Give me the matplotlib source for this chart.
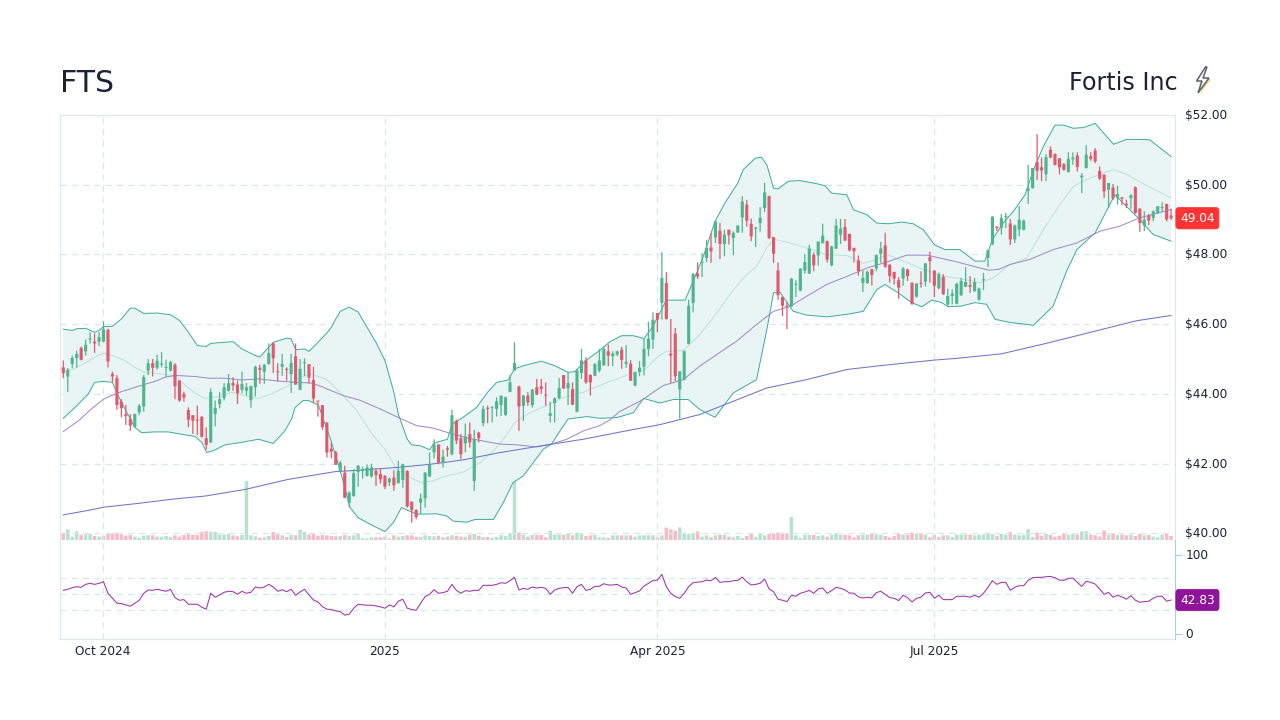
import matplotlib
matplotlib.use('Agg')
import matplotlib.pyplot as plt
from matplotlib.transforms import ScaledTranslation
import numpy as np

# daily candles
OPEN = [
    44.76,44.50,44.86,45.03,45.32,45.22,45.56,45.50,45.50,45.50,
    45.84,44.57,44.45,43.78,43.42,43.28,43.06,43.47,43.64,44.67,
    44.88,44.75,44.84,44.74,44.67,44.84,44.38,44.00,43.54,43.39,
    43.25,43.35,42.73,42.61,43.42,43.71,43.88,44.09,44.31,44.27,
    44.12,44.09,43.82,44.19,44.75,44.64,44.86,45.45,44.64,44.78,
    44.70,44.57,45.08,44.12,44.88,44.85,44.40,43.79,43.68,43.18,
    42.43,42.32,41.79,41.74,40.88,41.07,41.76,41.79,41.65,41.63,
    41.79,41.70,41.65,41.46,41.60,41.44,41.53,41.79,40.91,40.67,
    40.88,41.00,41.63,42.32,42.55,42.01,42.44,42.27,43.23,42.73,
    42.58,42.85,41.50,42.89,43.16,43.60,43.60,43.57,43.68,43.40,
    44.06,44.67,44.21,43.66,43.95,43.68,44.19,44.22,43.97,43.37,
    43.74,43.88,44.54,44.16,44.14,43.49,44.60,44.96,44.54,44.52,
    44.67,44.82,45.22,45.08,45.13,45.27,44.86,44.87,44.24,44.63,
    44.78,45.29,45.56,46.32,46.61,47.18,45.16,45.73,44.13,44.41,
    45.44,46.61,47.45,47.76,47.90,48.20,48.49,48.68,48.30,48.71,
    48.47,48.63,49.06,49.43,48.88,48.74,48.90,49.33,49.68,48.50,
    47.54,46.78,46.51,46.51,47.13,46.97,47.54,47.45,47.99,47.97,
    48.33,48.38,47.69,48.17,48.57,48.79,48.59,48.19,47.83,47.18,
    47.18,47.58,47.60,48.02,48.26,47.71,47.50,47.26,47.31,47.57,
    47.19,46.79,47.19,47.22,47.92,47.54,47.03,47.36,46.57,46.81,
    46.59,46.83,47.07,47.12,46.95,46.71,47.26,47.90,48.29,48.80,
    48.76,49.07,48.89,48.43,48.71,48.71,49.83,49.90,50.65,50.50,
    50.30,51.00,50.88,50.76,50.59,50.36,50.73,50.84,50.21,50.48,
    50.82,50.98,50.40,50.29,49.86,49.92,49.62,49.64,49.45,49.62,
    49.93,49.31,48.83,49.12,49.05,49.19,49.33,49.45,49.12]
CLOSE = [
    44.59,44.69,45.03,45.15,44.98,45.41,45.58,45.45,45.63,45.85,
    44.93,44.50,43.68,43.59,43.36,43.09,43.42,43.66,44.48,44.88,
    44.75,44.95,44.86,44.76,44.91,44.22,43.81,43.90,43.26,43.23,
    43.23,42.77,42.54,44.06,43.60,43.85,44.19,44.31,44.24,44.02,
    44.29,44.19,44.22,44.78,44.69,44.83,45.17,45.02,44.62,44.86,
    44.69,44.89,44.27,44.72,44.91,44.47,43.87,43.78,43.05,42.32,
    42.34,41.97,42.03,41.02,41.17,41.73,41.94,41.84,41.89,41.89,
    41.67,41.55,41.34,41.57,41.38,41.79,41.98,40.77,40.67,40.47,
    41.00,41.74,41.97,42.55,42.03,42.20,42.40,43.39,42.66,42.27,
    42.78,42.61,42.70,42.73,43.57,43.57,43.61,43.79,43.95,43.90,
    44.33,44.88,43.64,43.95,43.76,44.12,43.98,44.14,43.95,43.45,
    43.87,44.17,44.16,44.31,43.69,44.67,44.96,44.33,44.33,44.86,
    44.96,45.29,45.10,45.16,45.22,44.97,44.92,44.38,44.62,44.75,
    45.29,45.58,46.13,46.13,47.33,46.15,45.10,44.51,44.65,45.22,
    46.53,47.44,47.37,47.78,48.19,48.09,48.95,48.30,48.57,48.55,
    48.62,48.83,49.52,48.97,48.52,48.76,49.05,49.78,48.47,48.02,
    46.83,46.53,46.50,47.30,47.16,47.59,47.78,48.17,47.69,48.37,
    48.54,47.85,48.23,48.83,48.74,48.40,48.12,48.09,47.52,47.33,
    47.50,47.41,47.98,48.17,47.65,47.38,47.31,47.05,47.60,47.38,
    46.57,47.16,47.16,47.74,47.81,47.10,47.43,46.86,46.81,46.88,
    47.16,47.24,47.21,47.07,47.21,47.02,47.29,48.12,49.08,48.76,
    49.05,49.10,48.43,48.83,49.00,48.97,49.89,50.48,50.40,50.41,
    50.79,50.78,50.57,50.50,50.43,50.74,50.78,50.51,50.26,50.86,
    50.74,50.67,50.17,49.81,50.05,49.60,49.73,49.60,49.41,49.70,
    49.19,48.90,49.00,48.97,49.24,49.38,49.35,49.00,49.04]
HIGH = [
    44.96,44.74,45.10,45.24,45.36,45.56,45.77,45.74,45.77,46.08,
    45.87,44.64,44.54,43.85,43.68,43.42,43.44,43.71,44.54,45.00,
    45.00,45.12,45.20,44.98,44.95,44.88,44.40,44.06,43.61,43.39,
    43.66,43.35,43.04,44.16,43.81,44.05,44.31,44.57,44.48,44.38,
    44.64,44.31,44.24,44.81,44.84,44.86,45.45,45.48,44.88,45.15,
    44.76,45.15,45.45,45.00,45.02,44.86,44.78,43.79,43.68,43.18,
    42.61,42.37,42.08,41.94,41.20,41.84,41.96,41.91,41.98,42.00,
    41.87,41.86,41.67,41.60,41.81,42.08,42.00,41.81,40.91,40.69,
    41.14,41.76,42.32,42.70,42.55,42.40,42.51,43.55,43.26,42.85,
    43.15,43.18,42.97,42.91,43.66,43.66,43.64,43.90,43.95,43.92,
    44.54,45.48,44.24,43.97,44.05,44.14,44.43,44.43,44.33,43.78,
    43.90,44.46,44.54,44.62,44.33,44.72,45.29,45.05,44.57,44.88,
    45.29,45.37,45.42,45.22,45.24,45.35,45.40,44.97,44.64,44.94,
    45.58,46.07,46.34,46.32,48.06,47.49,46.15,45.89,44.65,45.25,
    46.70,47.47,47.77,48.04,48.42,48.61,48.97,48.90,48.71,48.71,
    48.66,48.83,49.67,49.57,49.03,48.79,49.36,50.05,49.68,48.50,
    47.77,46.80,46.63,47.33,47.26,47.61,48.01,48.28,48.06,48.37,
    48.88,48.40,48.25,49.02,49.02,49.02,48.59,48.19,47.97,47.54,
    47.54,47.58,48.00,48.36,48.62,47.71,47.50,47.35,47.64,47.59,
    47.19,47.18,47.52,47.76,48.08,47.54,47.48,47.43,47.02,47.00,
    47.19,47.33,47.64,47.38,47.33,47.05,47.47,48.14,49.10,48.80,
    49.16,49.19,49.02,48.86,49.38,49.00,50.57,50.48,51.45,50.78,
    50.88,51.10,50.90,50.76,50.62,50.93,50.93,50.93,50.33,51.14,
    50.93,51.05,50.52,50.29,50.05,50.02,49.97,49.64,49.57,49.73,
    49.95,49.33,49.24,49.16,49.26,49.38,49.50,49.45,49.31]
LOW = [
    44.45,44.06,44.74,44.76,44.96,45.10,45.44,45.18,45.37,45.48,
    44.76,44.33,43.55,43.33,43.11,42.94,43.04,43.40,43.49,44.54,
    44.50,44.70,44.76,44.48,44.64,43.85,43.78,43.78,43.04,42.85,
    42.82,42.75,42.40,42.59,43.07,43.59,43.81,44.07,44.09,43.71,
    44.02,43.95,43.61,43.93,44.29,44.29,44.84,44.60,44.35,44.52,
    44.38,44.03,44.26,44.11,44.51,44.30,43.76,43.35,42.97,42.18,
    42.15,41.96,41.74,41.01,40.74,41.05,41.34,41.57,41.63,41.60,
    41.36,41.43,41.27,41.36,41.22,41.43,41.31,40.74,40.31,40.40,
    40.55,40.74,41.62,42.15,41.98,41.89,42.20,42.24,42.56,42.13,
    42.32,42.46,41.22,42.61,43.07,43.16,43.18,43.35,43.37,43.37,
    44.05,44.67,42.94,43.23,43.66,43.61,43.97,44.00,43.66,43.18,
    43.18,43.85,44.14,43.68,43.68,43.47,44.43,44.29,43.95,44.51,
    44.62,44.81,44.80,44.80,45.08,44.72,44.75,44.37,44.22,44.51,
    44.53,45.08,45.29,45.77,46.13,46.13,44.32,44.37,43.29,44.39,
    45.42,46.34,47.30,47.35,47.78,47.76,48.33,47.87,47.95,48.28,
    47.98,48.62,48.62,48.80,48.38,48.21,48.66,49.22,48.44,47.76,
    46.70,46.23,45.86,46.50,46.78,46.94,47.45,47.45,47.52,47.68,
    48.31,47.77,47.66,48.16,48.30,48.38,48.09,47.77,47.39,46.92,
    47.16,47.11,47.52,47.76,47.62,47.19,47.14,46.73,47.10,47.24,
    46.57,46.76,47.05,47.08,47.19,46.78,47.00,46.84,46.50,46.57,
    46.57,46.81,47.07,46.90,46.93,46.67,46.98,47.64,48.27,48.67,
    48.57,48.76,48.27,48.33,48.52,48.69,49.45,49.89,50.14,50.10,
    50.11,50.76,50.55,50.30,50.40,50.36,50.57,50.38,49.76,50.46,
    50.69,50.62,50.14,49.62,49.33,49.57,49.43,49.41,49.33,49.31,
    49.17,48.65,48.67,48.84,48.95,49.17,49.22,48.95,48.99]

# relative bar heights, no volume scale is printed on the chart
VOLUME = [
    20,32,10,26,16,17,18,12,10,12,20,20,22,17,13,15,10,7,13,14,
    14,10,10,12,9,14,10,15,17,16,15,24,26,25,24,16,16,18,14,11,
    15,177,14,11,7,8,12,24,17,14,9,15,14,31,24,16,20,13,15,14,
    12,11,12,15,13,14,18,5,5,8,8,8,10,5,14,10,12,14,14,9,
    9,14,12,11,13,8,10,14,13,10,10,16,18,13,9,9,7,9,15,12,
    20,219,22,16,10,15,15,15,8,28,16,16,16,18,14,22,17,12,14,15,
    8,8,6,14,14,14,14,14,10,14,14,14,14,8,14,37,32,28,38,22,
    18,18,26,10,14,8,14,16,16,10,8,12,6,12,18,9,20,14,18,18,
    22,22,20,69,14,7,15,15,15,12,14,10,16,20,15,16,14,8,14,16,
    16,20,16,16,12,8,12,18,16,16,22,18,20,16,8,16,9,14,14,9,
    16,16,16,16,14,16,16,22,18,13,18,16,24,16,14,16,32,9,22,13,
    18,15,10,13,20,15,18,16,26,26,16,14,10,28,16,20,15,16,14,16,
    12,18,14,15,10,8,16,18,12]

RSI = [
    55.0,56.3,58.3,59.6,58.8,62.5,63.8,62.5,63.8,65.8,
    51.3,45.0,38.8,38.3,36.7,35.0,38.8,42.5,51.3,55.4,
    55.0,56.3,55.0,53.8,56.3,45.8,42.5,43.3,37.5,37.5,
    37.5,33.8,31.3,51.3,46.3,49.2,52.5,53.8,53.3,50.0,
    53.8,51.3,52.5,59.2,57.9,59.2,62.5,59.2,53.8,55.8,
    53.3,56.3,48.8,52.9,56.3,49.2,42.9,40.4,34.6,31.3,
    30.8,29.2,28.3,23.8,25.0,32.5,37.5,36.7,36.3,36.3,
    35.4,34.2,32.5,36.7,34.2,41.3,43.8,32.5,30.8,30.0,
    38.8,47.1,50.0,55.8,51.3,52.1,53.8,62.5,55.0,51.3,
    54.6,53.8,55.0,55.0,61.3,61.3,61.3,62.5,64.6,63.8,
    67.1,71.3,55.4,57.5,56.3,59.2,57.9,58.8,57.5,50.0,
    55.4,57.5,58.3,58.8,51.3,59.6,62.5,55.0,56.3,60.0,
    60.0,63.3,61.7,61.7,62.5,59.2,57.9,50.0,52.1,54.2,
    60.4,63.8,67.5,67.9,75.0,59.6,51.3,47.1,45.0,51.3,
    59.6,64.6,65.4,65.8,67.9,67.1,71.3,65.0,65.8,65.8,
    67.1,67.5,71.7,65.8,61.7,62.5,63.8,69.2,56.7,53.3,
    43.8,42.5,40.8,48.8,47.5,51.3,52.9,55.0,51.3,56.7,
    57.9,51.3,54.6,58.8,57.5,55.4,51.7,51.3,46.7,45.4,
    46.3,45.4,52.1,53.8,50.0,45.8,45.0,42.1,48.8,45.8,
    40.4,45.0,46.3,51.7,52.5,45.0,48.8,43.3,43.3,43.3,
    47.5,47.5,47.5,46.3,48.8,46.3,51.3,58.8,67.1,62.5,
    65.0,65.0,55.0,58.8,60.8,60.8,67.5,70.8,71.3,71.3,
    72.1,72.5,70.8,67.9,67.5,70.0,70.4,65.0,60.0,66.3,
    65.0,62.9,56.7,50.0,52.5,46.3,48.8,46.7,43.8,48.3,
    42.5,40.0,40.8,41.3,45.0,47.5,47.5,41.3,42.83]

# overlays, (candle index, price) pairs
BB_UPPER_X = [0,2,3,5,7,8,9,11,13,15,16,18,21,24,26,28,30,32,33,36,38,40,43,44,45,47,50,51,52,54,55,57,59,60,61,62,64,66,68,70,72,74,75,77,78,80,82,83,86,87,89.5,92.5,95,97,99.6,101,103,107,110,113,114.5,117,120,122.4,125,127.6,130,132,135,139.2,141,143.3,145.9,148.1,151,152.2,154.9,156.3,157.5,159,160,162.3,164.9,168.7,170.5,172,175.4,176.9,179.9,182.1,184.7,187.7,190.3,192.5,195.1,197.4,200.7,204.1,206.3,208,210.4,212.7,215.3,217.2,219.4,222,223.9,226.1,228.4,231,235.1,238,241,243.2,248]
BB_UPPER = [45.86,45.82,45.87,45.88,45.77,45.82,45.93,45.94,46.15,46.46,46.46,46.31,46.32,46.27,46.11,45.77,45.39,45.36,45.45,45.48,45.50,45.29,45.10,45.06,45.20,45.48,45.60,45.58,45.27,45.29,45.22,45.48,45.75,45.91,46.15,46.37,46.49,46.35,45.91,45.48,44.96,44.05,43.42,42.70,42.54,42.51,42.40,42.59,42.70,43.13,43.33,43.61,44.05,44.33,44.40,44.72,44.81,44.94,44.81,44.62,44.64,44.96,45.24,45.50,45.67,45.67,45.59,45.94,46.69,46.69,47.23,47.95,48.95,49.47,50.05,50.43,50.76,50.79,50.57,49.90,49.88,50.10,50.12,50.03,49.97,49.76,49.71,49.28,49.14,48.90,48.88,48.93,48.88,48.71,48.27,48.14,48.14,47.81,47.81,48.43,48.90,49.24,49.71,50.43,51.10,51.71,51.71,51.62,51.64,51.76,51.16,51.30,51.30,51.29,50.81]
BB_LOWER_X = [0,1,2.6,5.6,7,9,11,12,14.2,16,17.5,20.5,23.5,26.1,29.5,31,32.1,33.6,36.2,39.9,43.7,47,49.6,51.1,51.9,53.7,54.9,57.1,59,59.7,61.9,63.1,64.2,66,68.7,72,73.9,75.7,79.1,83.6,85.8,87.3,90.3,92.2,96.3,98.5,100.7,103,105.2,107.5,109.3,111.2,113,117.2,120.1,123.9,127.6,129.9,133.6,136.6,139.9,142.5,145.9,150,155.2,157.5,159,160.4,163.4,166.4,170.9,175.8,179.1,182.1,183.9,186.9,189.9,192.2,194.4,196.6,198.1,201.1,204.1,206.7,208.6,211.9,217.2,221.6,224.6,226.9,231,235.4,238,241,244,248]
BB_LOWER = [43.30,43.42,43.61,44.00,44.33,44.36,44.33,44.02,43.47,43.04,42.89,42.91,42.91,42.85,42.78,42.61,42.32,42.37,42.54,42.61,42.70,42.58,42.94,43.28,43.61,43.81,43.81,43.68,42.99,42.75,41.84,41.27,40.74,40.45,40.26,40.05,40.31,40.74,40.55,40.56,40.50,40.35,40.32,40.40,40.40,40.88,41.46,41.65,42.03,42.42,42.56,42.94,43.28,43.35,43.30,43.32,43.46,43.87,43.74,43.84,43.84,43.55,43.33,44.03,44.41,45.85,46.90,46.92,46.37,46.26,46.21,46.29,46.37,46.99,47.14,46.90,46.62,46.50,46.69,46.62,46.50,46.52,46.62,46.57,46.14,46.05,45.97,46.52,47.52,48.14,48.62,49.71,49.38,49.00,48.57,48.38]
BB_MID_X = [0,1.9,4.5,7,9,11,13.8,16,18.3,22,25,26.9,29.5,31.7,34.3,37.7,40.7,43.7,46.6,50.4,53,55.6,58.6,59.7,62.7,65.7,69.4,72,74.6,76.9,79.9,82.5,85.8,89.6,93.3,96.3,98.5,101.1,104.5,108.2,112,116.4,122.4,127.6,130.2,133.2,135,138.8,142.5,146.3,150,153,155.2,157.5,159,162,166.4,170.9,175.4,179.1,182.1,184.3,188.1,192.5,197,201.5,205.2,208.2,211.9,215.7,219.4,223.1,226.1,229.8,235.1,238,242.5,248]
BB_MID = [44.64,44.70,44.86,45.05,45.17,45.10,44.96,44.76,44.62,44.57,44.52,44.29,44.02,43.87,43.92,44.05,43.95,43.87,44.00,44.24,44.48,44.57,44.43,44.33,43.95,43.52,42.80,42.42,41.84,41.65,41.46,41.50,41.65,41.76,42.03,42.37,42.70,43.18,43.47,43.66,43.90,44.05,44.36,44.60,44.70,45.08,45.22,45.24,45.70,46.32,46.99,47.42,47.66,48.19,48.44,48.35,48.19,47.99,47.97,47.75,47.85,48.00,47.81,47.57,47.38,47.29,47.19,47.33,47.71,47.90,48.71,49.43,49.95,50.19,50.43,50.30,49.98,49.62]
SMA50_X = [0,3.4,6.3,9,12,16.8,20.5,22.8,25,29.5,32.5,36.2,39.9,43.7,48.9,52.6,55.6,57.8,60.8,62.7,66.4,70.9,75.4,79.1,82.8,86.6,91,94.8,97.8,101.5,106,109.3,112.7,116.4,120.1,122.4,124.6,129.1,134.3,138.8,142.5,146.3,150.7,155.2,159,162.7,166.4,170.9,175.4,179.9,184.3,188.8,193.3,199.3,207.1,209.3,211.9,216.4,221.6,226.9,232.1,236.5,241,248]
SMA50 = [42.92,43.23,43.57,43.85,44.02,44.22,44.36,44.48,44.53,44.50,44.45,44.45,44.40,44.43,44.36,44.33,44.31,44.21,44.05,43.95,43.82,43.57,43.30,43.09,43.02,42.87,42.72,42.63,42.56,42.54,42.48,42.56,42.70,42.94,43.09,43.26,43.50,43.79,44.24,44.41,44.80,45.13,45.51,45.99,46.37,46.51,46.80,47.14,47.37,47.61,47.78,47.98,47.98,47.81,47.55,47.57,47.71,47.86,48.14,48.33,48.67,48.81,49.05,49.29]
SMA200_X = [0,5.6,9,16.8,24.3,31.7,40.7,50.4,60.8,67.2,74.6,82,89.6,97,104.5,110.4,116.4,122.4,127.6,133.6,142.5,150,157.5,166.4,175.4,182.8,195,200,210,219.4,226.9,232.8,240.3,248]
SMA200 = [40.53,40.66,40.75,40.86,40.98,41.07,41.26,41.55,41.77,41.82,41.89,41.98,42.11,42.30,42.46,42.58,42.70,42.85,42.98,43.12,43.41,43.79,44.17,44.41,44.70,44.81,44.97,45.02,45.15,45.43,45.67,45.86,46.10,46.25]

PRICE_TICKS = [40, 42, 44, 46, 48, 50, 52]
DATE_POS = [8.8, 72, 133, 195]
DATE_LABELS = ['Oct 2024', '2025', 'Apr 2025', 'Jul 2025']

UP = '#4fb58f'
DOWN = '#e05a6d'
GRID = '#d8e8ed'
INK = '#1b2238'
TICK_SIZE = 8.7
W, H = 1280, 720

fig = plt.figure(figsize=(12.8, 7.2), dpi=100, facecolor='white')

def place(top, bottom):
    return [60 / W, 1 - bottom / H, (1174.5 - 60) / W, (bottom - top) / H]

xlim = (-0.74, 248.76)
idx = np.arange(len(CLOSE))
opens, closes = np.array(OPEN), np.array(CLOSE)
up = closes >= opens

# volume sits under the price pane, same box
ax_vol = fig.add_axes(place(115, 540))
vol_bars = ax_vol.bar(idx, VOLUME, width=0.78, linewidth=0,
                      color=np.where(up, '#b9e1cf', '#f8bac4'))
for b in vol_bars:
    b.set_snap(False)
ax_vol.set_xlim(xlim)
ax_vol.set_ylim(0, 1275)
ax_vol.axis('off')

ax = fig.add_axes(place(115, 540))
ax.patch.set_alpha(0)
ax.set_xlim(xlim)
ax.set_ylim(39.81, 52.0)

ax.fill(BB_UPPER_X + BB_LOWER_X[::-1], BB_UPPER + BB_LOWER[::-1],
        color='#e9f4f4', linewidth=0, zorder=1)
ax.plot(BB_UPPER_X, BB_UPPER, color='#3aab9d', lw=0.7, zorder=3)
ax.plot(BB_LOWER_X, BB_LOWER, color='#3aab9d', lw=0.7, zorder=3)
ax.plot(BB_MID_X, BB_MID, color='#b7e3da', lw=0.7, zorder=3)
ax.plot(SMA50_X, SMA50, color='#9a86cc', lw=0.7, zorder=3)
ax.plot(SMA200_X, SMA200, color='#6d76c9', lw=0.75, zorder=3)

colors = np.where(up, UP, DOWN)
wicks = ax.vlines(idx, LOW, HIGH, colors=colors, lw=0.9, zorder=4)
wicks.set_snap(False)
bodies = ax.bar(idx, np.maximum(np.abs(closes - opens), 0.03),
                bottom=np.minimum(opens, closes), width=0.7,
                color=colors, linewidth=0, zorder=5)
for b in bodies:
    b.set_snap(False)

ax.set_yticks(PRICE_TICKS)
ax.set_yticklabels([f'${v:.2f}' for v in PRICE_TICKS])
ax.yaxis.tick_right()
ax.tick_params(axis='y', length=0, pad=7.5, labelsize=TICK_SIZE, labelcolor=INK)
ax.set_xticks(DATE_POS)
ax.tick_params(axis='x', length=0, labelbottom=False)
ax.grid(True, color=GRID, lw=0.9, linestyle=(0, (5, 4)), zorder=0)
ax.set_axisbelow(True)
for s in ax.spines.values():
    s.set_color('#dbe9ed')
    s.set_linewidth(0.8)
ax.spines['bottom'].set_visible(False)

# RSI pane
ax_rsi = fig.add_axes(place(540, 639.3))
ax_rsi.plot(idx, RSI, color='#a033ab', lw=0.75, zorder=3)
ax_rsi.set_xlim(xlim)
ax_rsi.set_ylim(-6.6, 118.3)
ax_rsi.set_yticks([0, 100])
ax_rsi.set_yticks([30, 50, 70], minor=True)
ax_rsi.yaxis.tick_right()
ax_rsi.tick_params(axis='y', which='major', length=5, width=0.8, color='#a8d3dc',
                   pad=3, labelsize=TICK_SIZE, labelcolor=INK)
ax_rsi.tick_params(axis='y', which='minor', length=0)
ax_rsi.grid(True, axis='y', which='minor', color='#d2ebf3', lw=0.9, linestyle=(0, (5, 4)))
ax_rsi.set_xticks(DATE_POS)
ax_rsi.set_xticklabels(DATE_LABELS)
ax_rsi.tick_params(axis='x', length=0, pad=4, labelsize=TICK_SIZE, labelcolor=INK)
ax_rsi.grid(True, axis='x', color=GRID, lw=0.9, linestyle=(0, (5, 4)))
ax_rsi.set_axisbelow(True)
for s in ax_rsi.spines.values():
    s.set_color('#dbe9ed')
    s.set_linewidth(0.8)
ax_rsi.spines['top'].set_visible(False)
ax_rsi.spines['right'].set_color('#a8d3dc')

# labels sit about a pixel higher in the original
nudge = ScaledTranslation(0, 1 / 100, fig.dpi_scale_trans)
for lbl in ax.get_yticklabels() + ax_rsi.get_yticklabels():
    lbl.set_transform(lbl.get_transform() + nudge)

# last value badges
def badge(a, value, color):
    a.annotate(f'{value:.2f}', xy=(1, value), xycoords=a.get_yaxis_transform(),
               xytext=(4, 0), textcoords='offset points', ha='left', va='center',
               fontsize=TICK_SIZE, color='white',
               bbox=dict(boxstyle='round,pad=0.35,rounding_size=0.25', fc=color, ec=color, lw=0.5),
               annotation_clip=False, zorder=10)

badge(ax, CLOSE[-1], '#ff3333')
badge(ax_rsi, RSI[-1], '#8e1599')

# header
fig.text(60 / W, 1 - 84 / H, 'FTS', fontsize=21.6, color=INK, va='center', ha='left')
fig.text(1178 / W, 1 - 83.5 / H, 'Fortis Inc', fontsize=17.2, color=INK, va='center', ha='right')

icon = fig.add_axes([0, 0, 1, 1])
icon.set_xlim(0, W)
icon.set_ylim(H, 0)
icon.axis('off')
icon.patch.set_alpha(0)
icon.fill([1207, 1202, 1211, 1200, 1204, 1199, 1206], [67, 80, 79, 94, 84, 85, 68],
          color='#f7d774', linewidth=0)
icon.fill([1205.5, 1196.5, 1202, 1198, 1209, 1203, 1207], [67, 81, 81, 93, 78, 78, 67],
          facecolor='#ffffff', edgecolor='#5a6270', linewidth=1.1)

fig.savefig('out.png', dpi=100)
